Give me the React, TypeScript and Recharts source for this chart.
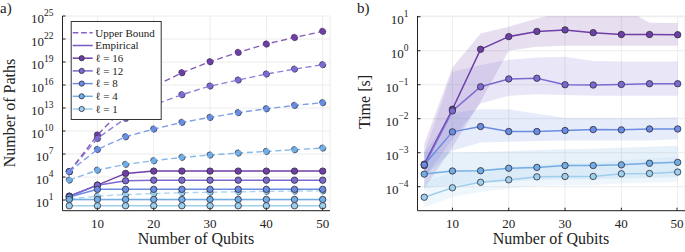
import React from "react";
import { ComposedChart, Line, Area, XAxis, YAxis, CartesianGrid } from "recharts";

// number of qubits on the x axis of both panels
const qubits = [5, 10, 15, 20, 25, 30, 35, 40, 45, 50];

// a) upper bound on the number of paths, per depth l
const boundL16 = [5e4, 3e9, 1.6e13, 6.3e15, 4e17, 1.1e19, 1.8e20, 2.2e21, 1.6e22, 1e23];
const boundL12 = [5e4, 1.1e9, 4.5e11, 2.5e13, 5.5e14, 7.4e15, 4.5e16, 2.7e17, 1.2e18, 4.5e18];
const boundL8 = [5e4, 4e7, 1.8e9, 1.8e10, 1.35e11, 6e11, 2.5e12, 8e12, 2.2e13, 5e13];
const boundL4 = [4e3, 8e4, 4.5e5, 1.35e6, 3.7e6, 7.4e6, 1.35e7, 2.2e7, 3.7e7, 6e7];
const boundL1 = [14, 32, 52, 71, 89, 105, 120, 135, 148, 158];

// a) empirical number of paths
const pathsL16 = [32, 900, 3e4, 6e4, 6e4, 6e4, 6e4, 6e4, 6e4, 6e4];
const pathsL12 = [32, 850, 3300, 3900, 3900, 3900, 3900, 3900, 3900, 3900];
const pathsL8 = [25, 250, 250, 250, 250, 250, 250, 250, 250, 250];
const pathsL4 = [12, 12, 12, 12, 12, 12, 12, 12, 12, 12];
const pathsL1 = [1.8, 1.8, 1.8, 1.8, 1.8, 1.8, 1.8, 1.8, 1.8, 1.8];

// b) mean run time [s]
const timeL16 = [4.6e-4, 1.9e-2, 1.1, 2.6, 3.7, 4.1, 3.4, 3.0, 3.0, 2.95];
const timeL12 = [4.2e-4, 1.7e-2, 8.7e-2, 0.148, 0.155, 0.1, 0.098, 0.102, 0.107, 0.107];
const timeL8 = [4.4e-4, 4.1e-3, 5.9e-3, 4.2e-3, 4.2e-3, 4.5e-3, 4.8e-3, 4.7e-3, 5e-3, 5e-3];
const timeL4 = [2.35e-4, 2.9e-4, 2.95e-4, 3.5e-4, 3.7e-4, 4.2e-4, 4.2e-4, 4.4e-4, 4.9e-4, 5.2e-4];
const timeL1 = [4.9e-5, 9.3e-5, 1.35e-4, 1.6e-4, 1.95e-4, 2e-4, 2e-4, 2.4e-4, 2.45e-4, 2.7e-4];

// b) spread of the run time (low / high edge of the shaded band)
const lowL16 = [8.7e-5, 1.45e-3, 3.2e-2, 1.0, 1.3, 1.4, 1.4, 1.4, 1.4, 1.4];
const highL16 = [1.8e-3, 0.32, 3.2, 5.1, 8.9, 14, 14, 20, 6.6, 6.5];
const lowL12 = [1.8e-4, 2.5e-3, 2.8e-2, 4.7e-2, 5.2e-2, 5e-2, 4.7e-2, 4.7e-2, 4.7e-2, 4.7e-2];
const highL12 = [1e-3, 0.24, 0.38, 0.54, 0.63, 0.66, 0.5, 0.48, 0.48, 0.48];
const lowL8 = [2e-4, 1.15e-3, 2e-3, 2.1e-3, 2.2e-3, 2.3e-3, 2.3e-3, 2.3e-3, 2.3e-3, 2.5e-3];
const highL8 = [1e-3, 1.45e-2, 1.9e-2, 1.9e-2, 1.4e-2, 1.07e-2, 1.07e-2, 1.07e-2, 1.07e-2, 1.1e-2];
const lowL4 = [8.9e-5, 1.1e-4, 1.26e-4, 1.4e-4, 1.6e-4, 1.65e-4, 1.65e-4, 1.75e-4, 1.8e-4, 1.9e-4];
const highL4 = [1.07e-3, 1e-3, 1.05e-3, 1.1e-3, 1.2e-3, 1.26e-3, 1.3e-3, 1.4e-3, 1.5e-3, 1.6e-3];
const lowL1 = [2.5e-5, 5e-5, 7e-5, 8.9e-5, 1.05e-4, 1.1e-4, 1.1e-4, 1.26e-4, 1.3e-4, 1.4e-4];
const highL1 = [1.4e-4, 2.6e-4, 3.2e-4, 3.8e-4, 4.5e-4, 4.8e-4, 5e-4, 6e-4, 6.6e-4, 7.6e-4];

const xTicks = [10, 20, 30, 40, 50];
const pathTicks = [10, 1e4, 1e7, 1e10, 1e13, 1e16, 1e19, 1e22, 1e25];
const timeTicks = [1e-4, 1e-3, 1e-2, 1e-1, 1, 10];

const levels = [
  { name: "16", color: "#6f3fa8", bound: boundL16, paths: pathsL16, time: timeL16, low: lowL16, high: highL16 },
  { name: "12", color: "#7e69d0", bound: boundL12, paths: pathsL12, time: timeL12, low: lowL12, high: highL12 },
  { name: "8", color: "#6a8de2", bound: boundL8, paths: pathsL8, time: timeL8, low: lowL8, high: highL8 },
  { name: "4", color: "#72ade3", bound: boundL4, paths: pathsL4, time: timeL4, low: lowL4, high: highL4 },
  { name: "1", color: "#9ecfeb", bound: boundL1, paths: pathsL1, time: timeL1, low: lowL1, high: highL1 },
];

const pathsData = qubits.map((n, i) => {
  const row: any = { n };
  levels.forEach((l) => {
    row["b" + l.name] = l.bound[i];
    row["e" + l.name] = l.paths[i];
  });
  return row;
});

const timeData = qubits.map((n, i) => {
  const row: any = { n };
  levels.forEach((l) => {
    row["t" + l.name] = l.time[i];
    row["r" + l.name] = [l.low[i], l.high[i]];
  });
  return row;
});

const SERIF = '"Liberation Serif", "DejaVu Serif", serif';
const INK = "#222";
const GRID = "#ececec";
const OUTLINE = "#2c2c3c";

function XTick({ x, y, payload }: any) {
  return (
    <g>
      <line x1={x} x2={x} y1={y} y2={y - 3} stroke={INK} />
      <text x={x} y={y + 17} textAnchor="middle" fontFamily={SERIF} fontSize={13} fill={INK}>
        {payload.value}
      </text>
    </g>
  );
}

function YTick({ x, y, payload }: any) {
  const exp = Math.round(Math.log10(payload.value));
  const sup = exp < 0 ? "\u2212" + -exp : String(exp);
  return (
    <g>
      <line x1={x} x2={x + 3} y1={y} y2={y} stroke={INK} />
      <text x={x - 9} y={y + 7} textAnchor="end" fontFamily={SERIF} fontSize={13} fill={INK}>
        10
        <tspan dy={-7} fontSize={9.5}>
          {sup}
        </tspan>
      </text>
    </g>
  );
}

const dot = (color: string) => ({ r: 3.2, fill: color, stroke: OUTLINE, strokeWidth: 0.8 });

function PathsPanel() {
  return (
    <ComposedChart width={345} height={252} data={pathsData} margin={{ top: 16, right: 15, bottom: 0, left: 0 }}>
      <CartesianGrid stroke={GRID} />
      <XAxis
        dataKey="n"
        type="number"
        domain={[3.8, 51.3]}
        ticks={xTicks}
        allowDataOverflow
        height={41.3}
        tickSize={0}
        tickMargin={0}
        tickLine={false}
        axisLine={{ stroke: INK }}
        tick={<XTick />}
      />
      <YAxis
        type="number"
        scale="log"
        domain={[0.41, 1e25]}
        ticks={pathTicks}
        allowDataOverflow
        width={62.5}
        tickSize={0}
        tickMargin={0}
        tickLine={false}
        axisLine={{ stroke: INK }}
        tick={<YTick />}
      />
      {levels.map((l) => (
        <Line
          key={"b" + l.name}
          dataKey={"b" + l.name}
          stroke={l.color}
          strokeOpacity={0.85}
          strokeWidth={1.4}
          strokeDasharray="6 3.5"
          dot={dot(l.color)}
          activeDot={false}
          isAnimationActive={false}
        />
      ))}
      {levels.map((l) => (
        <Line
          key={"e" + l.name}
          dataKey={"e" + l.name}
          stroke={l.color}
          strokeWidth={1.5}
          dot={dot(l.color)}
          activeDot={false}
          isAnimationActive={false}
        />
      ))}
    </ComposedChart>
  );
}

function TimePanel() {
  return (
    <ComposedChart width={340} height={252} data={timeData} margin={{ top: 16, right: 0, bottom: 0, left: 0 }}>
      <CartesianGrid stroke={GRID} />
      <XAxis
        dataKey="n"
        type="number"
        domain={[3.8, 51.3]}
        ticks={xTicks}
        allowDataOverflow
        height={41.3}
        tickSize={0}
        tickMargin={0}
        tickLine={false}
        axisLine={{ stroke: INK }}
        tick={<XTick />}
      />
      <YAxis
        type="number"
        scale="log"
        domain={[1.97e-5, 10.5]}
        ticks={timeTicks}
        allowDataOverflow
        width={72.5}
        tickSize={0}
        tickMargin={0}
        tickLine={false}
        axisLine={{ stroke: INK }}
        tick={<YTick />}
      />
      {levels.map((l) => (
        <Area
          key={"r" + l.name}
          dataKey={"r" + l.name}
          fill={l.color}
          fillOpacity={0.17}
          stroke="none"
          activeDot={false}
          isAnimationActive={false}
        />
      ))}
      {levels.map((l) => (
        <Line
          key={"t" + l.name}
          dataKey={"t" + l.name}
          stroke={l.color}
          strokeWidth={1.5}
          dot={dot(l.color)}
          activeDot={false}
          isAnimationActive={false}
        />
      ))}
    </ComposedChart>
  );
}

function Overlay() {
  const rowY = [11.8, 24.5, 37.2, 49.9, 62.6, 75.3, 88];
  return (
    <svg width={685} height={252} style={{ position: "absolute", left: 0, top: 0, pointerEvents: "none" }}>
      <g fontFamily={SERIF} fill={INK}>
        <text x={0} y={13} fontSize={15}>a)</text>
        <text x={357} y={13} fontSize={15}>b)</text>
        <text x={196} y={244} fontSize={16} textAnchor="middle">Number of Qubits</text>
        <text x={551} y={244} fontSize={16} textAnchor="middle">Number of Qubits</text>
        <text transform="translate(15,113) rotate(-90)" fontSize={16} textAnchor="middle">Number of Paths</text>
        <text transform="translate(370,102) rotate(-90)" fontSize={16} textAnchor="middle">Time [s]</text>
      </g>
      <g transform="translate(70.7,21)">
        <rect x={0.5} y={0.5} width={90} height={98} fill="#fff" stroke="#333" strokeWidth={1} />
        <line x1={2} x2={22} y1={rowY[0]} y2={rowY[0]} stroke="#8763c6" strokeWidth={1.5} strokeDasharray="5.7 2.7" />
        <text x={24.5} y={rowY[0] + 3.8} fontFamily={SERIF} fontSize={11} fill={INK}>Upper Bound</text>
        <line x1={2} x2={22} y1={rowY[1]} y2={rowY[1]} stroke="#7a55c0" strokeWidth={1.5} />
        <text x={24.5} y={rowY[1] + 3.8} fontFamily={SERIF} fontSize={11} fill={INK}>Empirical</text>
        {levels.map((l, i) => (
          <g key={l.name}>
            <line x1={2} x2={22} y1={rowY[i + 2]} y2={rowY[i + 2]} stroke={l.color} strokeWidth={1.5} />
            <circle cx={11} cy={rowY[i + 2]} r={2.6} fill={l.color} stroke={OUTLINE} strokeWidth={0.8} />
            <text x={24.5} y={rowY[i + 2] + 3.8} fontFamily={SERIF} fontSize={11} fill={INK}>
              {"ℓ = " + l.name}
            </text>
          </g>
        ))}
      </g>
    </svg>
  );
}

export default function App() {
  return (
    <div style={{ position: "absolute", left: 0, top: 0, width: 685, height: 252, background: "#fff", overflow: "hidden" }}>
      <div style={{ position: "absolute", left: 0, top: 0 }}>
        <PathsPanel />
      </div>
      <div style={{ position: "absolute", left: 345, top: 0 }}>
        <TimePanel />
      </div>
      <Overlay />
    </div>
  );
}
